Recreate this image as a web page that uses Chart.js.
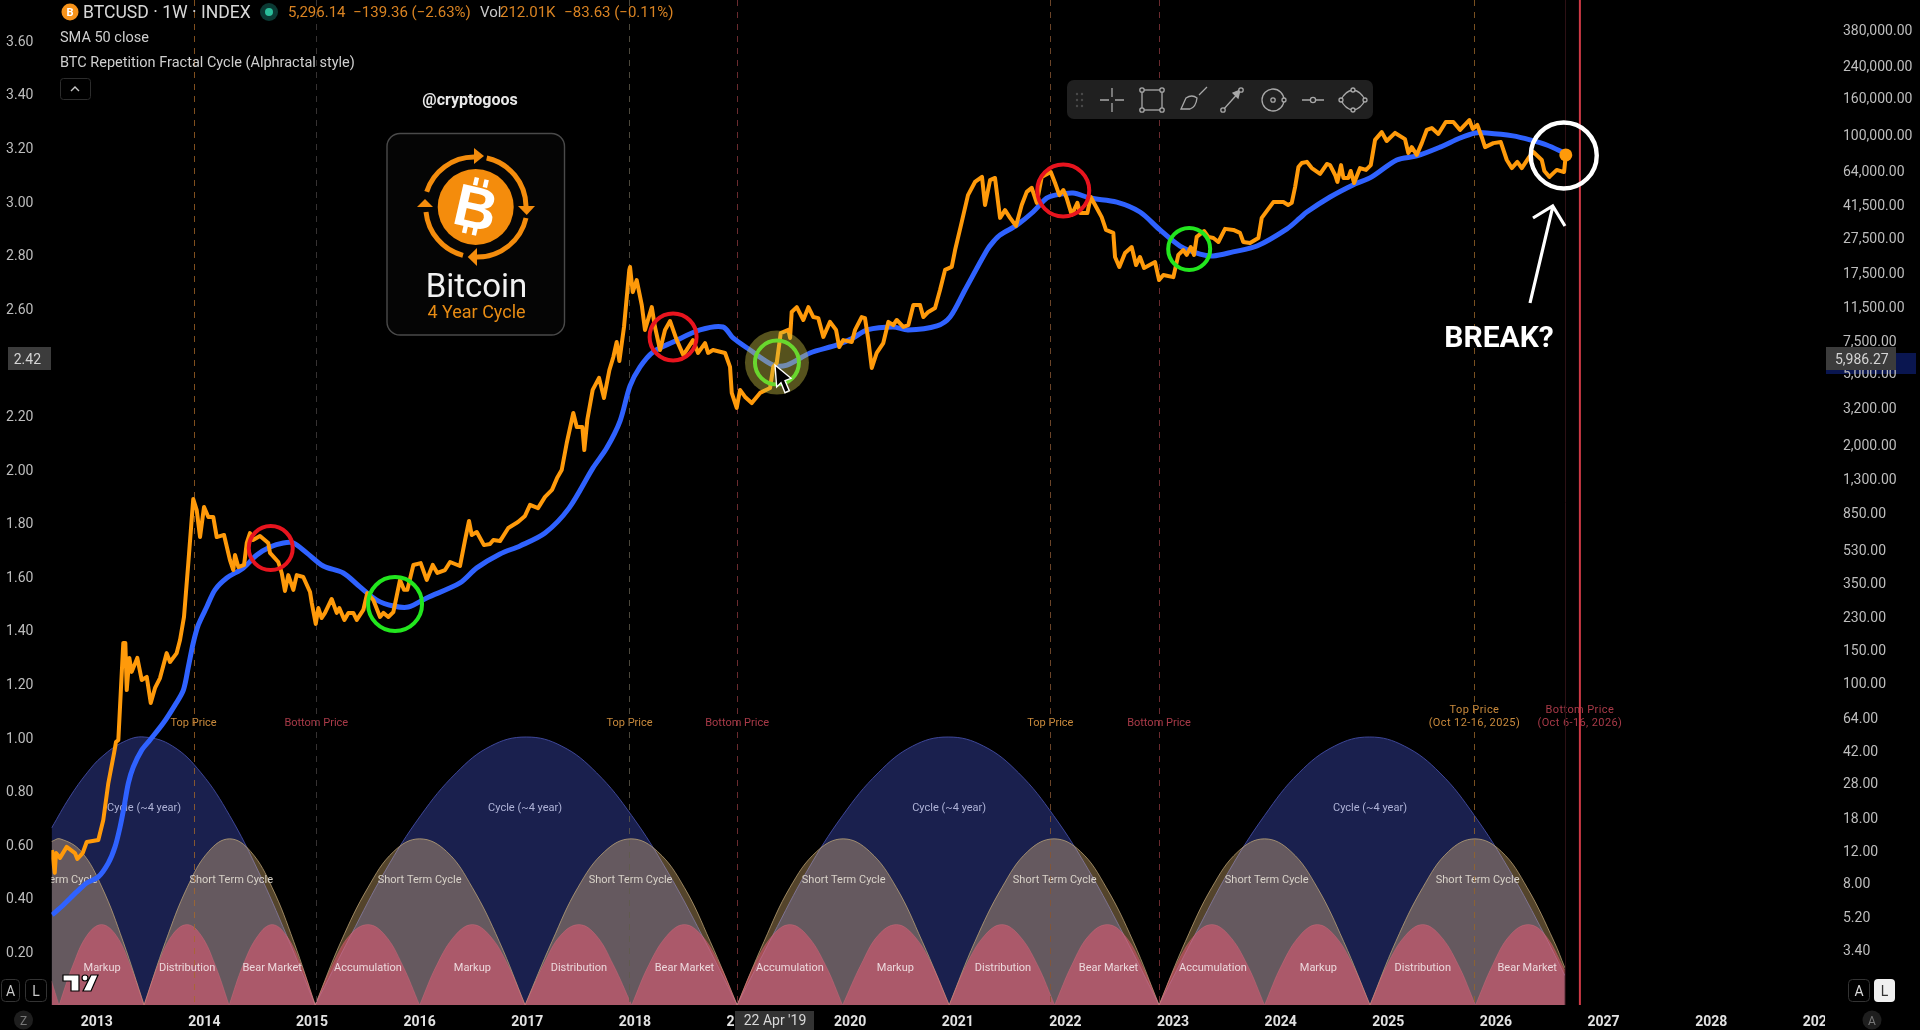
<!DOCTYPE html>
<html>
<head>
<meta charset="utf-8">
<title>BTCUSD 4 Year Cycle</title>
<script src="https://cdn.jsdelivr.net/npm/chart.js@4/dist/chart.umd.min.js"></script>
<style>
  html, body { margin: 0; background: #000; overflow: hidden; }
  #wrap { position: relative; width: 1920px; height: 1030px; }
  #chart { position: absolute; left: 0; top: 0; }
  #overlay { position: absolute; left: 0; top: 0; pointer-events: none; font-family: Roboto, sans-serif; }
</style>
</head>
<body>
<div id="wrap">
  <canvas id="chart" width="1920" height="1030" style="width:1920px;height:1030px"></canvas>
  <svg id="overlay" width="1920" height="1030" viewBox="0 0 1920 1030">
    <!-- legend -->
    <circle cx="70" cy="12" r="8.5" fill="#f7931a"/>
    <text x="70" y="16" font-size="11" font-weight="700" fill="#fff" text-anchor="middle">B</text>
    <text x="83" y="18" font-size="17.6" fill="#d8d8d8">BTCUSD · 1W · INDEX</text>
    <circle cx="269" cy="12" r="9" fill="#0b3a34"/>
    <circle cx="269" cy="12" r="4" fill="#2bbd9a"/>
    <text x="288" y="17" font-size="15" fill="#d98322">5,296.14<tspan dx="4"> −139.36 (−2.63%)</tspan></text>
    <text x="480" y="17" font-size="15" fill="#c8c8c8">Vol</text>
    <text x="500" y="17" font-size="15" fill="#d98322">212.01K<tspan dx="5"> −83.63 (−0.11%)</tspan></text>
    <text x="60" y="42" font-size="14.5" fill="#cfcfcf">SMA 50 close</text>
    <text x="60" y="67" font-size="14.5" fill="#cfcfcf">BTC Repetition Fractal Cycle (Alphractal style)</text>
    <rect x="60.5" y="78.5" width="30" height="21" rx="3" fill="#000" stroke="#2c2c2c"/>
    <path d="M71 91 L75 87 L79 91" fill="none" stroke="#c8c8c8" stroke-width="1.4"/>

    <!-- logo card -->
    <text x="470" y="105" font-size="16" font-weight="700" fill="#e8e8e8" text-anchor="middle">@cryptogoos</text>
    <rect x="387" y="133.5" width="177.5" height="201.5" rx="13" fill="#050505" stroke="#4a4a4a" stroke-width="1.4"/>
    <circle cx="475.7" cy="207" r="38" fill="#f48c0c"/>
    <g fill="none" stroke="#f48c0c" stroke-width="5">
      <path d="M426.7 191.7 A50 50 0 0 1 474 157"/>
      <path d="M486.7 158 A50 50 0 0 1 526 206"/>
      <path d="M526 218 A50 50 0 0 1 477 257"/>
      <path d="M463 255.4 A50 50 0 0 1 426 212"/>
    </g>
    <g fill="#f48c0c">
      <path d="M474 148 L484 156 L474 164 Z"/>
      <path d="M518 206 L535 206 L526.7 215 Z"/>
      <path d="M477 248 L477 266 L467.7 257 Z"/>
      <path d="M417 207 L433 207 L425 199 Z"/>
    </g>
    <g transform="rotate(13 475.7 207)">
      <text x="476" y="228" font-family="Liberation Sans" font-size="59" font-weight="700" fill="#fff" text-anchor="middle">B</text>
      <rect x="468" y="178" width="4.5" height="8" fill="#fff"/><rect x="478" y="178" width="4.5" height="8" fill="#fff"/>
      <rect x="468" y="227" width="4.5" height="8" fill="#fff"/><rect x="478" y="227" width="4.5" height="8" fill="#fff"/>
    </g>
    <text x="476.5" y="297" font-size="33" fill="#f2f2f2" text-anchor="middle">Bitcoin</text>
    <text x="476.5" y="318" font-size="18" fill="#e88c14" text-anchor="middle">4 Year Cycle</text>

    <!-- drawing toolbar -->
    <rect x="1067" y="80" width="306" height="39" rx="7" fill="#202020"/>
    <g fill="#4a4a4a">
      <circle cx="1077" cy="94" r="1.2"/><circle cx="1082" cy="94" r="1.2"/>
      <circle cx="1077" cy="100" r="1.2"/><circle cx="1082" cy="100" r="1.2"/>
      <circle cx="1077" cy="106" r="1.2"/><circle cx="1082" cy="106" r="1.2"/>
    </g>
    <g fill="none" stroke="#a8a8a8" stroke-width="1.3">
      <path d="M1100 100 H1109 M1115 100 H1124 M1112 88 V97 M1112 103 V112"/>
      <rect x="1142" y="90" width="20" height="20"/>
      <circle cx="1142" cy="90" r="2.2" fill="#202020"/><circle cx="1162" cy="90" r="2.2" fill="#202020"/>
      <circle cx="1142" cy="110" r="2.2" fill="#202020"/><circle cx="1162" cy="110" r="2.2" fill="#202020"/>
      <path d="M1181 109 L1186 98 Q1192 94 1197 98 Q1196 107 1190 109 Z M1199 95 L1202 92 L1207 87"/>
      <path d="M1223 110 L1241 90"/><path d="M1233 93 L1240 90 L1238 98 Z" fill="#a8a8a8"/>
      <circle cx="1223" cy="110" r="2.2" fill="#202020"/><circle cx="1241" cy="90" r="2.2" fill="#202020"/>
      <circle cx="1273" cy="100" r="11"/><circle cx="1273" cy="100" r="2.2"/><circle cx="1284" cy="100" r="2" fill="#202020"/>
      <path d="M1302 100 H1310 M1316 100 H1324"/><circle cx="1313" cy="100" r="2.6"/>
      <path d="M1341 100 Q1345 91 1353 90 Q1361 91 1365 100 Q1361 109 1353 110 Q1345 109 1341 100 Z"/>
      <circle cx="1341" cy="100" r="2" fill="#202020"/><circle cx="1353" cy="90" r="2" fill="#202020"/>
      <circle cx="1365" cy="100" r="2" fill="#202020"/><circle cx="1353" cy="110" r="2" fill="#202020"/>
    </g>

    <!-- break annotation -->
    <path d="M1530 303 L1552.7 207 M1533 218 L1552.7 206 L1565 226" fill="none" stroke="#fff" stroke-width="3.2"/>
    <text x="1499" y="347" font-size="30" font-weight="700" fill="#fff" text-anchor="middle">BREAK?</text>

    <!-- cursor -->
    <path d="M775 365 L776.7 387 L781 382.7 L785 392.7 L789.3 390.7 L785 380.7 L791 378.3 Z" fill="#000" stroke="#fff" stroke-width="1.4"/>

    <!-- tradingview mark -->
    <g fill="#fff" stroke="#000" stroke-width="1.2">
      <path d="M63 975 H79 V991 H71 V981 H63 Z"/>
      <circle cx="85" cy="978" r="3"/>
      <path d="M91 975 H98 L91 991 H83 Z"/>
    </g>

    <!-- scale buttons -->
    <g font-size="14" text-anchor="middle">
      <rect x="1.5" y="979.5" width="18" height="22" rx="4" fill="#000" stroke="#333"/>
      <text x="10.5" y="996" fill="#c8c8c8">A</text>
      <rect x="25.5" y="979.5" width="21" height="22" rx="4" fill="#000" stroke="#333"/>
      <text x="36" y="996" fill="#c8c8c8">L</text>
      <circle cx="23.5" cy="1020" r="9.5" fill="#1e1e1e"/>
      <text x="23.5" y="1025" font-size="12" fill="#777">Z</text>
      <rect x="1848.5" y="979.5" width="21" height="22" rx="4" fill="#000" stroke="#333"/>
      <text x="1859" y="996" fill="#d8d8d8">A</text>
      <rect x="1874" y="979" width="21" height="23" rx="4" fill="#f0f0f0"/>
      <text x="1884.5" y="996" fill="#333">L</text>
      <circle cx="1872" cy="1020" r="9.5" fill="#1e1e1e"/>
      <text x="1872" y="1025" font-size="12" fill="#777">A</text>
    </g>
  </svg>
</div>

<script>
// tick labels
var yearTicks = [2013, 2014, 2015, 2016, 2017, 2018, 2019, 2020, 2021, 2022, 2023, 2024, 2025, 2026, 2027, 2028, 2029];
var leftTicks = [0.2, 0.4, 0.6, 0.8, 1.0, 1.2, 1.4, 1.6, 1.8, 2.0, 2.2, 2.6, 2.8, 3.0, 3.2, 3.4, 3.6];
var priceTicks = [380000, 240000, 160000, 100000, 64000, 41500, 27500, 17500, 11500, 7500, 5000, 3200, 2000, 1300, 850, 530, 350, 230, 150, 100, 64, 42, 28, 18, 12, 8, 5.2, 3.4];

// BTC weekly close, read against the left axis
var priceYears = [2012.584,2012.610,2012.622,2012.659,2012.721,2012.798,2012.820,2012.870,2012.907,2013.015,2013.061,2013.108,2013.161,2013.179,2013.201,2013.226,2013.247,2013.266,2013.279,2013.303,2013.325,2013.377,2013.418,2013.465,2013.502,2013.542,2013.588,2013.650,2013.681,2013.743,2013.774,2013.811,2013.851,2013.897,2013.929,2013.960,2013.997,2014.037,2014.083,2014.115,2014.183,2014.238,2014.269,2014.285,2014.316,2014.369,2014.394,2014.424,2014.452,2014.517,2014.594,2014.610,2014.687,2014.719,2014.749,2014.780,2014.827,2014.858,2014.919,2014.982,2014.998,2015.035,2015.059,2015.090,2015.121,2015.183,2015.230,2015.254,2015.301,2015.338,2015.384,2015.416,2015.477,2015.514,2015.570,2015.632,2015.663,2015.709,2015.756,2015.818,2015.855,2015.886,2015.942,2016.010,2016.066,2016.122,2016.165,2016.236,2016.283,2016.375,2016.422,2016.459,2016.484,2016.531,2016.598,2016.654,2016.685,2016.747,2016.824,2016.914,2016.979,2017.026,2017.100,2017.165,2017.230,2017.277,2017.320,2017.367,2017.428,2017.460,2017.512,2017.530,2017.558,2017.608,2017.667,2017.713,2017.763,2017.800,2017.831,2017.856,2017.899,2017.948,2017.955,2017.980,2018.017,2018.064,2018.094,2018.157,2018.187,2018.234,2018.280,2018.327,2018.389,2018.450,2018.540,2018.587,2018.652,2018.680,2018.726,2018.838,2018.884,2018.900,2018.946,2018.977,2019.024,2019.086,2019.163,2019.256,2019.286,2019.318,2019.355,2019.426,2019.442,2019.457,2019.504,2019.565,2019.612,2019.658,2019.704,2019.751,2019.813,2019.869,2019.899,2019.936,2020.015,2020.046,2020.107,2020.138,2020.169,2020.201,2020.247,2020.308,2020.355,2020.401,2020.433,2020.494,2020.541,2020.587,2020.649,2020.680,2020.726,2020.789,2020.835,2020.882,2020.944,2020.975,2021.030,2021.095,2021.160,2021.225,2021.253,2021.300,2021.346,2021.393,2021.439,2021.486,2021.541,2021.594,2021.641,2021.687,2021.734,2021.780,2021.864,2021.904,2021.944,2021.981,2022.012,2022.059,2022.111,2022.136,2022.204,2022.235,2022.291,2022.337,2022.377,2022.445,2022.461,2022.501,2022.554,2022.616,2022.656,2022.693,2022.731,2022.833,2022.870,2022.910,2023.003,2023.049,2023.096,2023.127,2023.164,2023.195,2023.220,2023.288,2023.328,2023.375,2023.421,2023.483,2023.561,2023.622,2023.653,2023.715,2023.793,2023.824,2023.932,2024.025,2024.069,2024.103,2024.134,2024.165,2024.196,2024.243,2024.289,2024.366,2024.429,2024.459,2024.506,2024.527,2024.561,2024.583,2024.629,2024.651,2024.682,2024.737,2024.793,2024.837,2024.877,2024.939,2024.985,2025.063,2025.155,2025.186,2025.218,2025.264,2025.311,2025.357,2025.404,2025.465,2025.534,2025.604,2025.667,2025.753,2025.784,2025.827,2025.868,2025.899,2025.976,2026.045,2026.101,2026.147,2026.199,2026.240,2026.302,2026.348,2026.426,2026.450,2026.497,2026.565,2026.633,2026.649];
var priceValues = [0.578,0.493,0.567,0.549,0.590,0.567,0.545,0.567,0.608,0.616,0.690,0.828,0.940,0.981,0.989,1.187,1.351,1.351,1.175,1.295,1.243,1.295,1.213,1.224,1.127,1.183,1.220,1.313,1.280,1.313,1.362,1.448,1.649,1.888,1.847,1.746,1.858,1.821,1.821,1.746,1.754,1.660,1.623,1.679,1.634,1.642,1.724,1.761,1.735,1.750,1.724,1.687,1.653,1.612,1.545,1.604,1.549,1.604,1.597,1.541,1.500,1.422,1.481,1.444,1.463,1.515,1.463,1.481,1.437,1.463,1.463,1.437,1.474,1.537,1.511,1.448,1.463,1.448,1.466,1.586,1.549,1.549,1.642,1.649,1.586,1.642,1.612,1.623,1.653,1.638,1.735,1.806,1.754,1.765,1.716,1.720,1.735,1.731,1.780,1.802,1.825,1.866,1.854,1.896,1.922,1.966,1.996,2.097,2.209,2.157,2.157,2.071,2.183,2.295,2.340,2.265,2.369,2.418,2.474,2.403,2.530,2.743,2.754,2.660,2.705,2.612,2.519,2.604,2.530,2.444,2.519,2.552,2.481,2.425,2.481,2.433,2.470,2.433,2.444,2.433,2.381,2.284,2.228,2.295,2.269,2.246,2.284,2.302,2.381,2.396,2.507,2.519,2.489,2.586,2.604,2.556,2.604,2.567,2.563,2.493,2.549,2.519,2.455,2.481,2.474,2.519,2.567,2.563,2.481,2.377,2.433,2.470,2.549,2.537,2.556,2.530,2.537,2.612,2.612,2.567,2.586,2.601,2.668,2.743,2.754,2.817,2.910,3.022,3.071,3.090,2.985,3.078,3.086,2.937,2.966,2.937,2.907,2.985,3.034,3.049,2.993,3.090,3.108,3.067,3.022,3.041,3.011,2.948,2.993,2.955,2.955,3.015,2.974,2.940,2.892,2.881,2.791,2.754,2.806,2.828,2.761,2.791,2.750,2.772,2.705,2.724,2.716,2.799,2.817,2.799,2.828,2.799,2.866,2.888,2.866,2.862,2.847,2.896,2.892,2.881,2.847,2.843,2.862,2.937,2.996,2.996,2.985,2.993,3.052,3.127,3.142,3.146,3.123,3.101,3.138,3.134,3.097,3.071,3.134,3.086,3.086,3.112,3.067,3.123,3.116,3.134,3.228,3.257,3.224,3.254,3.231,3.179,3.201,3.172,3.216,3.265,3.272,3.250,3.295,3.295,3.265,3.302,3.269,3.284,3.239,3.201,3.216,3.220,3.153,3.123,3.146,3.123,3.160,3.183,3.153,3.112,3.090,3.116,3.108,3.172];

// SMA 50
var smaYears = [2012.585,2012.690,2012.814,2012.907,2013.015,2013.108,2013.170,2013.217,2013.254,2013.294,2013.340,2013.418,2013.495,2013.619,2013.727,2013.805,2013.851,2013.897,2013.944,2014.022,2014.099,2014.208,2014.362,2014.487,2014.610,2014.734,2014.827,2014.951,2015.105,2015.291,2015.446,2015.602,2015.756,2015.895,2016.066,2016.375,2016.531,2016.747,2016.933,2017.165,2017.388,2017.611,2017.738,2017.862,2017.955,2018.048,2018.169,2018.355,2018.605,2018.819,2018.912,2019.070,2019.283,2019.414,2019.627,2019.878,2020.027,2020.157,2020.398,2020.538,2020.807,2020.928,2021.067,2021.272,2021.328,2021.393,2021.548,2021.699,2021.827,2021.904,2022.071,2022.229,2022.477,2022.693,2022.879,2023.065,2023.251,2023.372,2023.557,2023.780,2024.059,2024.180,2024.243,2024.459,2024.672,2024.846,2025.079,2025.264,2025.481,2025.667,2025.806,2025.915,2026.159,2026.317,2026.472,2026.640];
var smaValues = [0.336,0.373,0.422,0.455,0.478,0.530,0.590,0.664,0.739,0.828,0.888,0.951,0.989,1.052,1.119,1.175,1.261,1.351,1.418,1.485,1.549,1.593,1.631,1.679,1.709,1.724,1.724,1.687,1.638,1.612,1.560,1.511,1.489,1.485,1.519,1.575,1.631,1.683,1.713,1.761,1.854,2.004,2.078,2.179,2.310,2.381,2.437,2.474,2.519,2.530,2.489,2.444,2.388,2.388,2.433,2.463,2.489,2.519,2.530,2.519,2.534,2.567,2.668,2.817,2.847,2.873,2.910,2.959,3.011,3.022,3.030,3.011,2.996,2.959,2.892,2.832,2.802,2.795,2.810,2.832,2.896,2.937,2.959,3.015,3.060,3.090,3.153,3.168,3.201,3.235,3.254,3.254,3.243,3.228,3.209,3.179];

// cycle arches, one inner list per arch
var cycleYears = [
  [2012.58,2012.75,2012.91,2013.05,2013.25,2013.44,2013.705,2013.97,2014.235,2014.50,2014.765,2015.03],
  [2015.03,2015.36,2015.68,2016.01,2016.34,2016.66,2016.99,2017.32,2017.645,2017.97,2018.30,2018.625,2018.95],
  [2018.95,2019.28,2019.60,2019.93,2020.26,2020.58,2020.91,2021.24,2021.565,2021.89,2022.22,2022.545,2022.87],
  [2022.87,2023.20,2023.52,2023.85,2024.17,2024.50,2024.825,2025.15,2025.48,2025.80,2026.13,2026.455,2026.64]
];
var cycleValues = [
  [0.66,0.776,0.866,0.927,0.982,1.0,0.966,0.866,0.707,0.5,0.259,0],
  [0,0.259,0.5,0.707,0.866,0.966,1.0,0.966,0.866,0.707,0.5,0.259,0],
  [0,0.259,0.5,0.707,0.866,0.966,1.0,0.966,0.866,0.707,0.5,0.259,0],
  [0,0.259,0.5,0.707,0.866,0.966,1.0,0.966,0.866,0.707,0.5,0.259,0.11]
];
var shortYears = [
  [2012.58,2012.66,2012.855,2013.05,2013.245,2013.44],
  [2013.44,2013.64,2013.84,2014.04,2014.235,2014.43,2014.63,2014.83,2015.03],
  [2015.03,2015.27,2015.52,2015.76,2016.00,2016.25,2016.49,2016.74,2016.98],
  [2016.98,2017.23,2017.47,2017.72,2017.965,2018.21,2018.46,2018.70,2018.95],
  [2018.95,2019.20,2019.44,2019.69,2019.935,2020.18,2020.43,2020.67,2020.92],
  [2020.92,2021.16,2021.41,2021.65,2021.895,2022.14,2022.38,2022.63,2022.87],
  [2022.87,2023.115,2023.36,2023.605,2023.85,2024.095,2024.34,2024.585,2024.83],
  [2024.83,2025.07,2025.32,2025.56,2025.805,2026.05,2026.29,2026.54,2026.64]
];
var shortValues = [
  [0.61,0.62,0.573,0.438,0.237,0],
  [0,0.237,0.438,0.573,0.62,0.573,0.438,0.237,0],
  [0,0.237,0.438,0.573,0.62,0.573,0.438,0.237,0],
  [0,0.237,0.438,0.573,0.62,0.573,0.438,0.237,0],
  [0,0.237,0.438,0.573,0.62,0.573,0.438,0.237,0],
  [0,0.237,0.438,0.573,0.62,0.573,0.438,0.237,0],
  [0,0.237,0.438,0.573,0.62,0.573,0.438,0.237,0],
  [0,0.237,0.438,0.573,0.62,0.573,0.438,0.237,0.139]
];
var phaseYears = [
  [2012.58,2012.65],
  [2012.65,2012.78,2012.91,2013.045,2013.18,2013.31,2013.44],
  [2013.44,2013.57,2013.70,2013.84,2013.97,2014.10,2014.23],
  [2014.23,2014.36,2014.50,2014.63,2014.76,2014.90,2015.03],
  [2015.03,2015.19,2015.35,2015.52,2015.68,2015.84,2016.00],
  [2016.00,2016.16,2016.33,2016.49,2016.65,2016.82,2016.98],
  [2016.98,2017.15,2017.31,2017.48,2017.64,2017.80,2017.97],
  [2017.97,2018.13,2018.30,2018.46,2018.62,2018.79,2018.95],
  [2018.95,2019.11,2019.28,2019.44,2019.60,2019.77,2019.93],
  [2019.93,2020.10,2020.26,2020.43,2020.59,2020.76,2020.92],
  [2020.92,2021.08,2021.25,2021.41,2021.57,2021.74,2021.90],
  [2021.90,2022.06,2022.22,2022.39,2022.55,2022.71,2022.87],
  [2022.87,2023.03,2023.20,2023.36,2023.52,2023.69,2023.85],
  [2023.85,2024.01,2024.18,2024.34,2024.50,2024.67,2024.83],
  [2024.83,2024.99,2025.16,2025.32,2025.48,2025.65,2025.81],
  [2025.81,2025.97,2026.13,2026.30,2026.46,2026.64]
];
var phaseValues = [
  [0.09,0],
  [0,0.15,0.26,0.30,0.26,0.15,0],
  [0,0.15,0.26,0.30,0.26,0.15,0],
  [0,0.15,0.26,0.30,0.26,0.15,0],
  [0,0.15,0.26,0.30,0.26,0.15,0],
  [0,0.15,0.26,0.30,0.26,0.15,0],
  [0,0.15,0.26,0.30,0.26,0.15,0],
  [0,0.15,0.26,0.30,0.26,0.15,0],
  [0,0.15,0.26,0.30,0.26,0.15,0],
  [0,0.15,0.26,0.30,0.26,0.15,0],
  [0,0.15,0.26,0.30,0.26,0.15,0],
  [0,0.15,0.26,0.30,0.26,0.15,0],
  [0,0.15,0.26,0.30,0.26,0.15,0],
  [0,0.15,0.26,0.30,0.26,0.15,0],
  [0,0.15,0.26,0.30,0.26,0.15,0],
  [0,0.15,0.26,0.30,0.26,0.13]
];

// hand drawn rings on the picture
var redRingYears = [2014.617, 2018.355, 2021.980];
var redRingValues = [1.705, 2.493, 3.039];
var greenRingYears = [2015.772, 2019.320, 2023.150];
var greenRingValues = [1.496, 2.397, 2.821];
var whiteRingYears = [2026.630];
var whiteRingValues = [3.170];

// cycle labels
var cycleLabelYears = [2013.44, 2016.98, 2020.92, 2024.83];
var shortLabelYears = [2012.62, 2014.25, 2016.00, 2017.96, 2019.94, 2021.90, 2023.87, 2025.83];
var phaseLabelNames = ['Markup','Distribution','Bear Market','Accumulation','Markup','Distribution','Bear Market','Accumulation','Markup','Distribution','Bear Market','Accumulation','Markup','Distribution','Bear Market'];
var phaseLabelYears = [2013.05,2013.84,2014.63,2015.52,2016.49,2017.48,2018.46,2019.44,2020.42,2021.42,2022.40,2023.37,2024.35,2025.32,2026.29];
var topPriceYears = [2013.90, 2017.95, 2021.86, 2025.80];
var bottomPriceYears = [2015.04, 2018.95, 2022.87];
var topLineColors = ['rgba(170,105,40,0.75)', 'rgba(95,90,75,0.8)', 'rgba(135,85,50,0.8)', 'rgba(150,100,40,0.8)'];
var bottomLineColors = ['rgba(60,55,55,0.9)', 'rgba(125,50,55,0.85)', 'rgba(125,50,55,0.85)'];
var lastBottomYear = 2026.78;
var lastBarYear = 2026.645;

function toPoints(xs, ys) {
  return xs.map(function(x, i) { return { x: x, y: ys[i] }; });
}

// arches are one series, a null between them breaks the line
function archPoints(xLists, yLists) {
  var pts = [];
  xLists.forEach(function(xs, a) {
    if (a > 0) pts.push({ x: xs[0], y: null });
    pts = pts.concat(toPoints(xs, yLists[a]));
  });
  return pts;
}

function ring(label, xs, ys, color, radius, width, fill) {
  return {
    label: label, data: toPoints(xs, ys), showLine: false, order: 0,
    pointRadius: radius, pointHoverRadius: radius, pointBorderColor: color, pointBorderWidth: width,
    pointBackgroundColor: fill || 'transparent'
  };
}

function labelAt(ctx, chart, text, year, level, color, font) {
  ctx.font = font;
  ctx.fillStyle = color;
  ctx.textAlign = 'center';
  ctx.textBaseline = 'middle';
  ctx.fillText(text, chart.scales.x.getPixelForValue(year), chart.scales.y.getPixelForValue(level));
}

// axis sizes are fixed, no room for half labels at the ends
function fixAxis(s, size) {
  if (s.isHorizontal()) s.height = size; else s.width = size;
  s.paddingTop = 0; s.paddingBottom = 0; s.paddingLeft = 0; s.paddingRight = 0;
}

var cycleMarks = {
  id: 'cycleMarks',
  beforeDraw: function(chart) {
    var ctx = chart.ctx;
    ctx.save();
    ctx.fillStyle = '#000';
    ctx.fillRect(0, 0, 1920, 1030);
    // current price band on the right scale
    ctx.fillStyle = '#0a1650';
    ctx.fillRect(1826, 353, 90, 21);
    ctx.restore();
  },
  beforeDatasetDraw: function(chart, args) {
    if (chart.data.datasets[args.index].label !== 'SMA 50 close') return;
    var ctx = chart.ctx, area = chart.chartArea, x = chart.scales.x;
    ctx.save();
    ctx.beginPath();
    ctx.rect(area.left, area.top, area.right - area.left, area.bottom - area.top);
    ctx.clip();

    var small = '11px Roboto', topColor = '#c98a3c', bottomColor = '#a83a48';
    cycleLabelYears.forEach(function(y) { labelAt(ctx, chart, 'Cycle (~4 year)', y, 0.733, '#aeb2d6', small); });
    shortLabelYears.forEach(function(y) { labelAt(ctx, chart, 'Short Term Cycle', y, 0.465, '#d8d2c8', small); });
    phaseLabelNames.forEach(function(n, i) { labelAt(ctx, chart, n, phaseLabelYears[i], 0.137, '#ecd8dc', small); });
    topPriceYears.slice(0, 3).forEach(function(y) { labelAt(ctx, chart, 'Top Price', y, 1.05, topColor, small); });
    bottomPriceYears.forEach(function(y) { labelAt(ctx, chart, 'Bottom Price', y, 1.05, bottomColor, small); });
    ctx.letterSpacing = '0.4px';
    labelAt(ctx, chart, 'Top Price', 2025.80, 1.10, topColor, small);
    labelAt(ctx, chart, '(Oct 12-16, 2025)', 2025.80, 1.05, topColor, small);
    labelAt(ctx, chart, 'Bottom Price', lastBottomYear, 1.10, bottomColor, small);
    labelAt(ctx, chart, '(Oct 6-16, 2026)', lastBottomYear, 1.05, bottomColor, small);
    ctx.letterSpacing = '0px';

    // cycle date lines
    ctx.lineWidth = 1;
    ctx.setLineDash([6, 6]);
    topPriceYears.forEach(function(y, i) {
      var px = Math.round(x.getPixelForValue(y)) + 0.5;
      ctx.strokeStyle = topLineColors[i];
      ctx.beginPath(); ctx.moveTo(px, area.top); ctx.lineTo(px, area.bottom); ctx.stroke();
    });
    bottomPriceYears.forEach(function(y, i) {
      var px = Math.round(x.getPixelForValue(y)) + 0.5;
      ctx.strokeStyle = bottomLineColors[i];
      ctx.beginPath(); ctx.moveTo(px, area.top); ctx.lineTo(px, area.bottom); ctx.stroke();
    });
    ctx.setLineDash([]);
    var barPx = Math.round(x.getPixelForValue(lastBarYear)) + 0.5;
    ctx.strokeStyle = '#2d1014';
    ctx.beginPath(); ctx.moveTo(barPx, area.top); ctx.lineTo(barPx, area.bottom); ctx.stroke();
    var redPx = x.getPixelForValue(lastBottomYear);
    ctx.strokeStyle = '#cf3a46';
    ctx.lineWidth = 2;
    ctx.beginPath(); ctx.moveTo(redPx, area.top); ctx.lineTo(redPx, area.bottom); ctx.stroke();
    ctx.restore();
  },
  afterDraw: function(chart) {
    var ctx = chart.ctx;
    ctx.save();
    // the time scale stops at the price scale
    ctx.fillStyle = '#000';
    ctx.fillRect(1825, 1006, 30, 24);
    ctx.font = '14px Roboto';
    ctx.textBaseline = 'middle';
    // crosshair labels
    ctx.fillStyle = '#3c3c3c';
    ctx.fillRect(8, 347, 43, 23);
    ctx.fillRect(1826, 347, 70, 23);
    ctx.fillStyle = '#d4d4d4';
    ctx.textAlign = 'right';
    ctx.fillText('2.42', 41, 360);
    ctx.textAlign = 'left';
    ctx.fillText('5,986.27', 1835, 360);
    ctx.fillStyle = '#333333';
    ctx.fillRect(735, 1011, 79, 19);
    ctx.fillStyle = '#d8d8d8';
    ctx.textAlign = 'center';
    ctx.fillText("22 Apr '19", 775, 1021);
    ctx.restore();
  }
};

new Chart(document.getElementById('chart'), {
  type: 'line',
  data: {
    datasets: [
      ring('Retest', [greenRingYears[1]], [greenRingValues[1]], 'rgba(0,0,0,0)', 32, 0, 'rgba(205,195,70,0.42)'),
      ring('Lost', redRingYears, redRingValues, '#e8141e', [22, 23.5, 26], 4),
      ring('Held', greenRingYears, greenRingValues, '#22e61e', [27, 22, 21], 4),
      ring('Now', whiteRingYears, whiteRingValues, '#ffffff', 33, 4.4),
      { label: 'Last', data: [{ x: priceYears[priceYears.length - 1], y: priceValues[priceValues.length - 1] }], showLine: false, order: 1,
        pointRadius: 6.5, pointBackgroundColor: '#ff9a0a', pointBorderWidth: 0 },
      { label: 'BTCUSD', data: toPoints(priceYears, priceValues), order: 2, borderColor: '#ff9a0a', borderWidth: 4, pointRadius: 0, tension: 0, borderJoinStyle: 'round' },
      { label: 'SMA 50 close', data: toPoints(smaYears, smaValues), order: 3, borderColor: '#2f62ff', borderWidth: 5, pointRadius: 0, tension: 0.3 },
      { label: 'Phase', data: archPoints(phaseYears, phaseValues), order: 4, fill: 'origin', backgroundColor: 'rgba(230,90,115,0.55)', borderColor: 'rgba(230,120,135,0.3)', borderWidth: 1, pointRadius: 0, tension: 0.4 },
      { label: 'Short Term Cycle', data: archPoints(shortYears, shortValues), order: 5, fill: 'origin', backgroundColor: 'rgba(255,205,130,0.33)', borderColor: 'rgba(190,165,120,0.75)', borderWidth: 1, pointRadius: 0, tension: 0.4 },
      { label: 'Cycle (~4 year)', data: archPoints(cycleYears, cycleValues), order: 6, fill: 'origin', backgroundColor: '#1a204e', borderColor: 'rgba(70,80,170,0.85)', borderWidth: 1, pointRadius: 0, tension: 0.4 }
    ]
  },
  options: {
    responsive: false,
    animation: false,
    devicePixelRatio: 1,
    layout: { padding: 0, autoPadding: false },
    plugins: { legend: { display: false }, tooltip: { enabled: false } },
    events: [],
    scales: {
      x: {
        type: 'linear', bounds: 'data', min: 2012.579, max: 2029.048,
        grid: { display: false }, border: { display: false },
        afterFit: function(s) { fixAxis(s, 25); },
        afterBuildTicks: function(s) { s.ticks = yearTicks.map(function(v) { return { value: v }; }); },
        ticks: {
          autoSkip: false, maxRotation: 0, padding: 1, color: '#e2e2e2',
          font: { family: 'Roboto', size: 14, weight: '700' },
          callback: function(v) { return String(v); }
        }
      },
      y: {
        type: 'linear', position: 'left', bounds: 'data', min: 0, max: 3.75,
        grid: { display: false }, border: { display: false },
        afterFit: function(s) { fixAxis(s, 51.4); },
        afterBuildTicks: function(s) { s.ticks = leftTicks.map(function(v) { return { value: v }; }); },
        ticks: {
          autoSkip: false, padding: 10, labelOffset: 2, color: '#bdbdbd',
          font: { family: 'Roboto', size: 14 },
          callback: function(v) { return v.toFixed(2); }
        }
      },
      price: {
        type: 'logarithmic', position: 'right', bounds: 'data', min: 1.698, max: 548000,
        grid: { display: false }, border: { display: false },
        afterFit: function(s) { fixAxis(s, 96); },
        afterBuildTicks: function(s) { s.ticks = priceTicks.map(function(v) { return { value: v }; }); },
        ticks: {
          autoSkip: false, padding: 11, labelOffset: 2, color: '#bdbdbd',
          font: { family: 'Roboto', size: 14 },
          callback: function(v) { return v.toLocaleString('en-US', { minimumFractionDigits: 2, maximumFractionDigits: 2 }); }
        }
      }
    }
  },
  plugins: [cycleMarks]
});
</script>
</body>
</html>
